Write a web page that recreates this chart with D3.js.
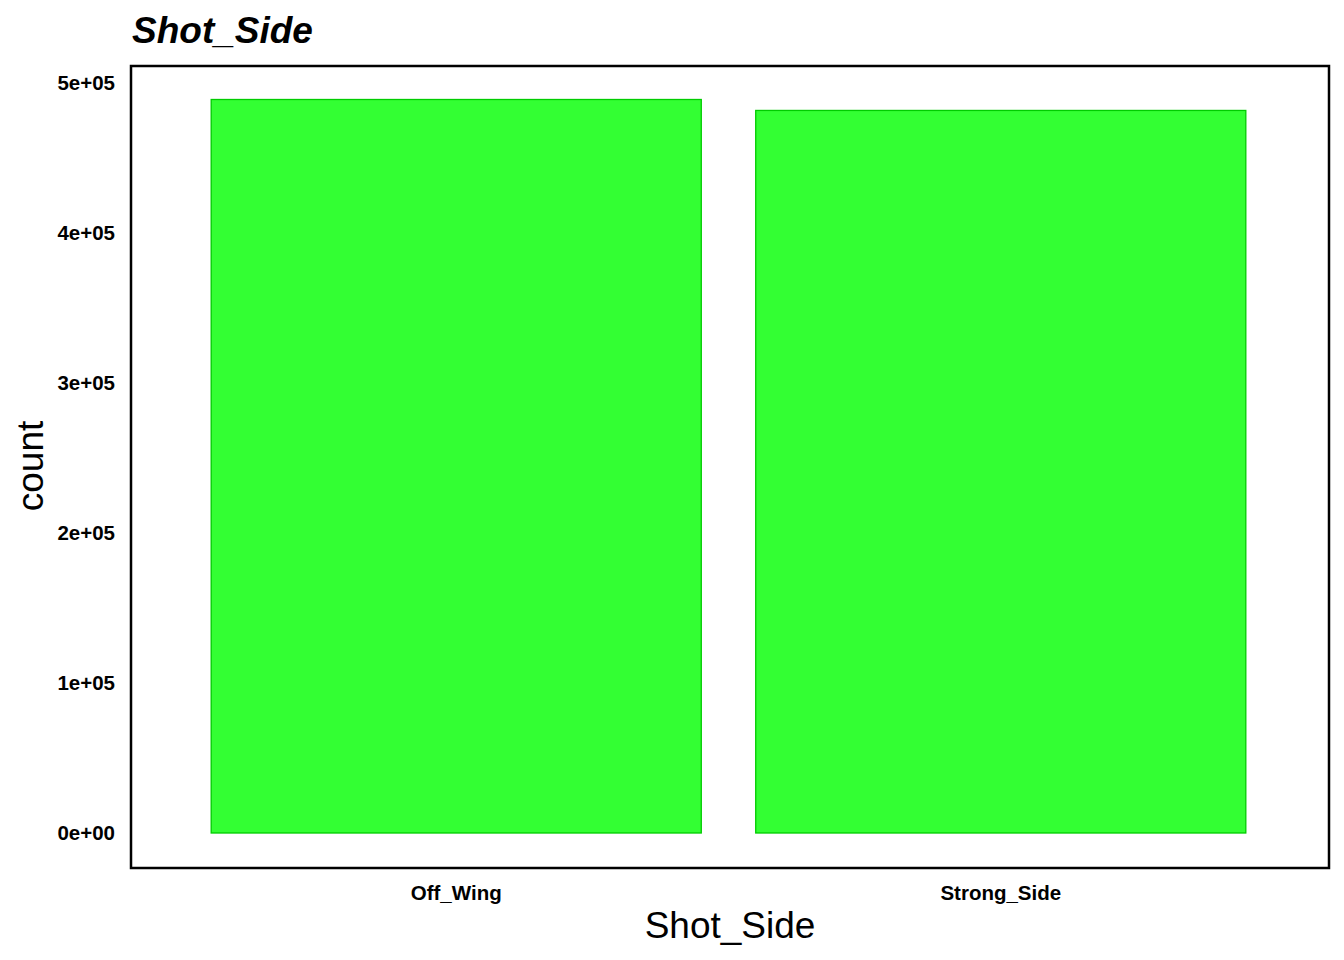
<!DOCTYPE html>
<html>
<head>
<meta charset="utf-8">
<script src="https://cdn.jsdelivr.net/npm/d3@7"></script>
<style>
  body { margin: 0; background: #fff; }
  text { font-family: "Liberation Sans", Arial, sans-serif; }
</style>
</head>
<body>
<div id="chart"></div>
<script>
// data
var categories = ["Off_Wing", "Strong_Side"];
var counts = [489000, 481700];
var yTicks = [0, 100000, 200000, 300000, 400000, 500000];
var yTickLabels = ["0e+00", "1e+05", "2e+05", "3e+05", "4e+05", "5e+05"];

var width = 1344, height = 960;
var panel = {left: 131, right: 1329, top: 66, bottom: 868};

var svg = d3.select("#chart").append("svg")
    .attr("width", width)
    .attr("height", height);

// scales
var x = d3.scaleBand()
    .domain(categories)
    .range([panel.left, panel.right])
    .paddingInner(0.1)
    .paddingOuter(0.15);

var y = d3.scaleLinear()
    .domain([0, 500000])
    .range([833, 83]);

// bars
svg.selectAll("rect.bar").data(categories).enter().append("rect")
    .attr("class", "bar")
    .attr("x", function(d){ return x(d) - 1.5; })
    .attr("width", x.bandwidth())
    .attr("y", function(d, i){ return y(counts[i]); })
    .attr("height", function(d, i){ return y(0) - y(counts[i]); })
    .attr("fill", "#33ff33")
    .attr("stroke", "#00cc00")
    .attr("stroke-width", 1.3);

// panel border
svg.append("rect")
    .attr("x", panel.left).attr("y", panel.top)
    .attr("width", panel.right - panel.left)
    .attr("height", panel.bottom - panel.top)
    .attr("fill", "none")
    .attr("stroke", "#000")
    .attr("stroke-width", 2.5);

// y axis, no ticks or line, only labels
var yAxis = d3.axisLeft(y)
    .tickValues(yTicks)
    .tickFormat(function(d, i){ return yTickLabels[i]; })
    .tickSize(0)
    .tickPadding(0);
var gy = svg.append("g").attr("transform", "translate(115,0)").call(yAxis);
gy.select(".domain").remove();
gy.selectAll("text")
    .attr("font-family", "Liberation Sans, Arial, sans-serif")
    .attr("font-size", 20.5)
    .attr("font-weight", "bold")
    .attr("fill", "#000");

// x axis labels
var xAxis = d3.axisBottom(x).tickSize(0).tickPadding(0);
var gx = svg.append("g").attr("transform", "translate(-1.5,885)").call(xAxis);
gx.select(".domain").remove();
gx.selectAll("text")
    .attr("font-family", "Liberation Sans, Arial, sans-serif")
    .attr("font-size", 20.5)
    .attr("font-weight", "bold")
    .attr("fill", "#000");

// title
svg.append("text").text("Shot_Side")
    .attr("x", 132).attr("y", 43)
    .attr("font-size", 37)
    .attr("font-weight", "bold")
    .attr("font-style", "italic");

// axis titles
svg.append("text").text("Shot_Side")
    .attr("x", (panel.left + panel.right) / 2).attr("y", 938)
    .attr("text-anchor", "middle")
    .attr("font-size", 37);

svg.append("text").text("count")
    .attr("transform", "translate(43,466) rotate(-90)")
    .attr("text-anchor", "middle")
    .attr("font-size", 37);
</script>
</body>
</html>
